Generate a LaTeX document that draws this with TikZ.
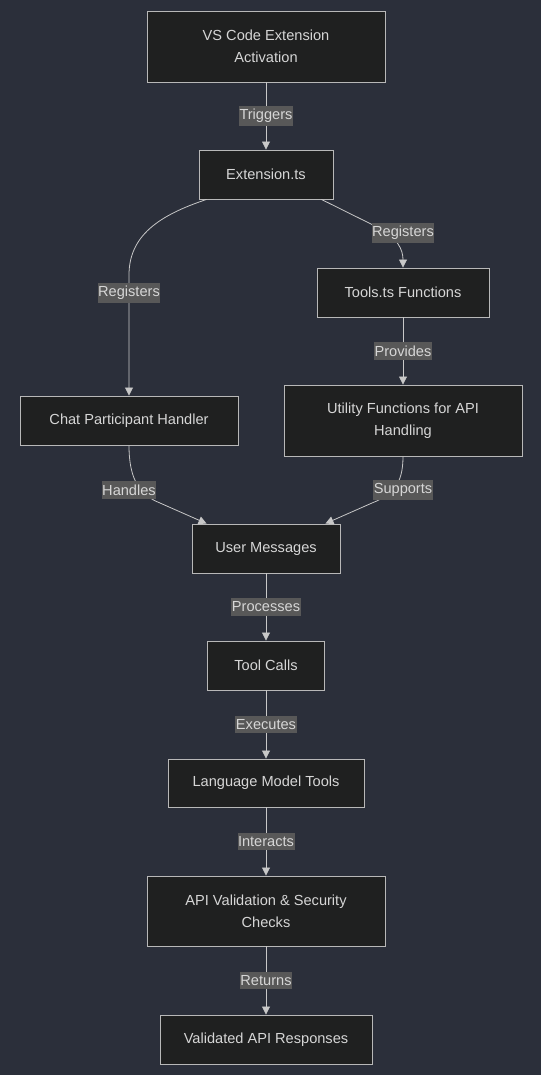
\documentclass[tikz,border=0pt]{standalone}
\usepackage{fontspec}
\setmainfont{Liberation Sans}
\usetikzlibrary{arrows.meta,calc}
\definecolor{bg}{HTML}{2B2F3A}
\definecolor{boxfill}{HTML}{1F2020}
\definecolor{boxline}{HTML}{B8B8B8}
\definecolor{txt}{HTML}{D6D6D6}
\definecolor{lblfill}{HTML}{585858}
\definecolor{edge}{HTML}{C8C8C8}
\tikzset{
  box/.style={draw=boxline, fill=boxfill, line width=0.9pt, text=txt, align=center,
    font=\fontsize{14.6}{22}\selectfont, inner sep=0pt, anchor=center},
  lbl/.style={fill=lblfill, text=txt, font=\fontsize{14.6}{16}\selectfont,
    inner xsep=0.5pt, inner ysep=3.5pt, anchor=center},
  conn/.style={draw=edge, line width=0.8pt, -{Triangle[length=8pt,width=8pt]}}
}
\begin{document}
\begin{tikzpicture}[x=1pt,y=-1pt]
\fill[bg] (0,0) rectangle (541,1075);
\useasboundingbox (0,0) rectangle (541,1075);
% nodes
\node[box, minimum width=238pt, minimum height=71pt] (act) at (266,46.5) {VS Code Extension\\Activation};
\node[box, minimum width=134pt, minimum height=49pt] (ext) at (266,174.5) {Extension.ts};
\node[box, minimum width=172pt, minimum height=49pt] (tools) at (403,292.5) {Tools.ts Functions};
\node[box, minimum width=218pt, minimum height=49pt] (chat) at (129,420.5) {Chat Participant Handler};
\node[box, minimum width=238pt, minimum height=71pt] (util) at (403,420.5) {Utility Functions for API\\Handling};
\node[box, minimum width=148pt, minimum height=49pt] (user) at (266,548.5) {User Messages};
\node[box, minimum width=117pt, minimum height=49pt] (calls) at (266,665.5) {Tool Calls};
\node[box, minimum width=196pt, minimum height=48pt] (lm) at (266,783) {Language Model Tools};
\node[box, minimum width=238pt, minimum height=70pt] (api) at (266,911) {API Validation \& Security\\Checks};
\node[box, minimum width=212pt, minimum height=49pt] (resp) at (266,1039.5) {Validated API Responses};
% edges
\draw[conn] (act.south) -- (ext.north) node[lbl, pos=0.5] (l1) {Triggers};
\draw[conn] ($(ext.south west)+(8,0)$) .. controls (160,215) and (129,235) .. (129,275) -- (chat.north);
\node[lbl] (l2) at (129,293) {Registers};
\draw[conn] ($(ext.south east)+(-12,0)$) -- (375,226) .. controls (398,237) and (403,250) .. (tools.north);
\node[lbl] (l3) at (403,233) {Registers};
\draw[conn] (tools.south) -- (util.north) node[lbl, pos=0.5] (l4) {Provides};
\draw[conn] (chat.south) .. controls (129,480) and (140,495) .. (160,503) -- ($(user.north west)+(15,0)$);
\node[lbl] (l5) at (129,490) {Handles};
\draw[conn] (util.south) .. controls (403,485) and (392,495) .. (372,503) -- ($(user.north east)+(-15,0)$);
\node[lbl] (l6) at (403,490) {Supports};
\draw[conn] (user.south) -- (calls.north) node[lbl, pos=0.5] (l7) {Processes};
\draw[conn] (calls.south) -- (lm.north) node[lbl, pos=0.5] (l8) {Executes};
\draw[conn] (lm.south) -- (api.north) node[lbl, pos=0.5] (l9) {Interacts};
\draw[conn] (api.south) -- (resp.north) node[lbl, pos=0.5] (l10) {Returns};
\end{tikzpicture}
\end{document}
